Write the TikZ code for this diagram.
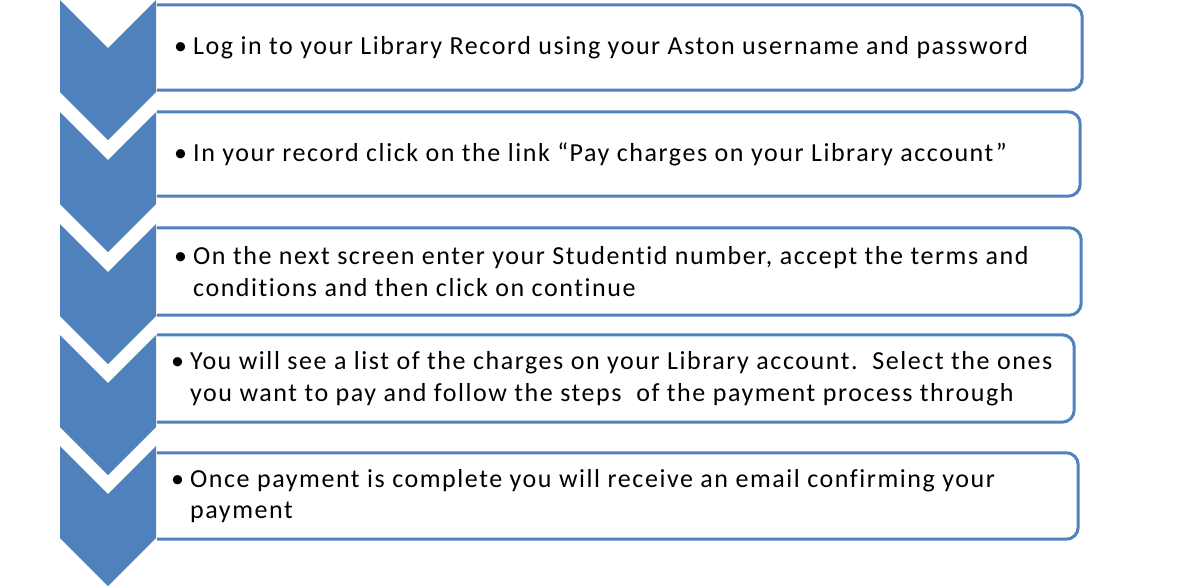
\documentclass[tikz,border=0pt]{standalone}
\usepackage{fontspec}
\setmainfont{Carlito}[LetterSpace=6.0, Ligatures=NoCommon]
\definecolor{chevblue}{HTML}{4F81BD}
\newcommand{\bul}{\makebox[19pt][l]{\textbullet}}
\begin{document}
\begin{tikzpicture}[x=1pt,y=-1pt]

% definitions
\tikzstyle{chevron} = [fill=chevblue, draw=none]

\tikzstyle{box} = [rectangle, inner sep=0pt, draw=none]

\tikzstyle{frame} = [draw=chevblue, line width=3pt, rounded corners=12pt]

\tikzstyle{itemtext} = [anchor=west, inner sep=0pt, align=left, font=\fontsize{26}{31.7}\selectfont]

\useasboundingbox (0,0) rectangle (1181,587);


% boxes
\node (ba) [box, minimum width=925pt, minimum height=85pt] at (619.5,47.5) {};
\node (bb) [box, minimum width=923pt, minimum height=84pt] at (618.5,154) {};
\node (bc) [box, minimum width=924pt, minimum height=87pt] at (619,271.5) {};
\node (bd) [box, minimum width=917pt, minimum height=87pt] at (615.5,378.5) {};
\node (be) [box, minimum width=921pt, minimum height=86pt] at (617.5,496) {};

\draw [frame] (ba.south west) -- (ba.south east) -- (ba.north east) -- (ba.north west);
\draw [frame] (bb.south west) -- (bb.south east) -- (bb.north east) -- (bb.north west);
\draw [frame] (bc.south west) -- (bc.south east) -- (bc.north east) -- (bc.north west);
\draw [frame] (bd.south west) -- (bd.south east) -- (bd.north east) -- (bd.north west);
\draw [frame] (be.south west) -- (be.south east) -- (be.north east) -- (be.north west);


% chevrons
\path [chevron] (60,0) -- (108,48) -- (156,0) -- (156,92) -- (108,140) -- (60,92) -- cycle;
\path [chevron] (60,112) -- (108,160) -- (156,112) -- (156,204) -- (108,252) -- (60,204) -- cycle;
\path [chevron] (60,224) -- (108,272) -- (156,224) -- (156,316) -- (108,364) -- (60,316) -- cycle;
\path [chevron] (60,335) -- (108,383) -- (156,335) -- (156,427) -- (108,475) -- (60,427) -- cycle;
\path [chevron] (60,446) -- (108,494) -- (156,446) -- (156,538) -- (108,586) -- (60,538) -- cycle;


% texts
\node (ta) [itemtext] at (174,47.5) {\bul Log in to your Library Record using your Aston username and password};
\node (tb) [itemtext] at (174,154) {\bul In your record click on the link “Pay charges on your Library account”};
\node (tc) [itemtext] at (174,271.5) {\bul On the next screen enter your Studentid number, accept the terms and\\
\hphantom{\bul}conditions and then click on continue};
\node (td) [itemtext] at (171,378.5) {\bul You will see a list of the charges on your Library account.\ \ Select the ones\\
\hphantom{\bul}you want to pay and follow the steps\ \ of the payment process through};
\node (te) [itemtext] at (171,496) {\bul Once payment is complete you will receive an email confirming your\\
\hphantom{\bul}payment};

\end{tikzpicture}
\end{document}
